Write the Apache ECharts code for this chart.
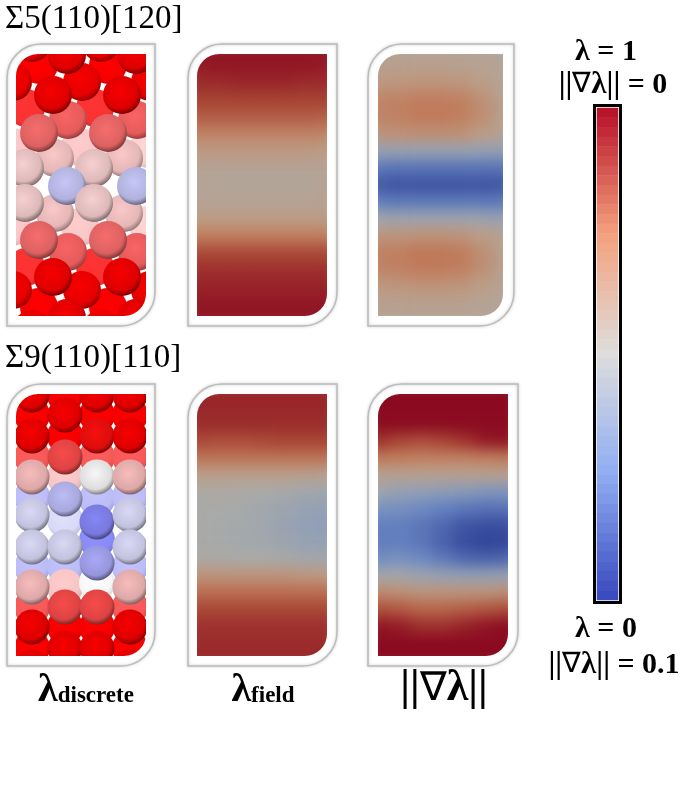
<!DOCTYPE html>
<html>
<head>
<meta charset="utf-8">
<style>
  html, body { margin: 0; padding: 0; background: #fff; }
  #fields, #main { position: absolute; left: 0; top: 0; width: 685px; height: 806px; }
  #fields { filter: blur(7px); }
</style>
<script src="https://cdn.jsdelivr.net/npm/echarts@6/dist/echarts.min.js"></script>
</head>
<body>
<div id="fields"></div>
<div id="main"></div>
<script>
// atoms: [x, y, lambda], x and y along the cell (axis units 0-130 / 0-262)
const sigma5Back = [
  [23,11,1],[92,11,1],[10,54,.9],[79,54,.9],[-4,93,.6],[64,93,.6],[132,95,.58],
  [-4,173,.6],[64,173,.6],[132,171,.58],[10,213,.9],[79,213,.9],[23,253,1],[92,253,1]
];
const sigma5Mid = [
  [16,-11,1],[85,-11,1],[-3,28,1],[66,28,1],[134,28,1],[52,66,.8],[121,66,.8],
  [39,104,.6],[108,104,.6],[39,159,.6],[108,159,.6],[52,198,.8],[121,198,.8],
  [-3,236,1],[66,236,1],[134,236,1],[16,275,1],[85,275,1]
];
const sigma5Front = [
  [51,1,1],[120,1,1],[37,41,1],[106,41,1],[23,79,.78],[92,79,.78],[9,114,.58],[78,114,.58],
  [51,132,.4],[120,132,.4],[9,149,.58],[78,149,.58],[23,186,.78],[92,186,.78],
  [37,223,1],[106,223,1],[51,264,1],[120,264,1]
];
const sigma9Back = [
  [16,21,1],[16,63,.82],[16,103,.38],[16,173,.38],[16,213,.82],[16,254,1],
  [49,1,1],[49,42,1],[49,83,.6],[49,126,.44],[49,173,.38],[49,193,.6],[49,233,1],
  [81,21,1],[81,63,.82],[81,105,.38],[81,146,.28],[81,189,.5],[81,233,1],
  [114,21,1],[114,63,.82],[114,103,.38],[114,173,.38],[114,213,.82],[114,254,1]
];
const sigma9Front = [
  [16,1,1],[16,42,1],[16,83,.62],[16,121,.44],[16,153,.44],[16,193,.62],[16,233,1],[16,273,1],
  [49,21,1],[49,63,.85],[49,105,.38],[49,153,.44],[49,213,.85],[49,254,1],
  [81,1,1],[81,42,.97],[81,83,.5],[81,128,.27],[81,169,.34],[81,213,.85],[81,254,1],
  [114,1,1],[114,42,1],[114,83,.62],[114,121,.44],[114,153,.44],[114,193,.62],[114,233,1],[114,273,1]
];

// fields read row by row, 17 rows by 7 columns, the outer rows run under the frame
const fieldColumns = ['c1','c2','c3','c4','c5','c6','c7'];
const fieldRows = ['r1','r2','r3','r4','r5','r6','r7','r8','r9','r10','r11','r12','r13','r14','r15','r16','r17'];
const sigma5Field = [
  [.98,.98,.98,.98,.98,.98,.98],
  [.96,.97,.97,.97,.97,.97,.96],
  [.93,.93,.94,.94,.94,.93,.93],
  [.88,.88,.88,.88,.88,.88,.88],
  [.82,.82,.82,.82,.82,.82,.81],
  [.72,.72,.72,.72,.72,.72,.71],
  [.64,.64,.64,.64,.64,.64,.63],
  [.58,.58,.58,.58,.58,.58,.58],
  [.57,.56,.56,.56,.56,.56,.57],
  [.58,.58,.58,.58,.58,.58,.59],
  [.63,.63,.63,.63,.63,.63,.63],
  [.74,.74,.74,.74,.74,.74,.73],
  [.86,.86,.86,.86,.86,.86,.86],
  [.92,.92,.92,.92,.92,.92,.92],
  [.95,.95,.95,.95,.95,.95,.95],
  [.97,.97,.97,.97,.97,.97,.97],
  [.98,.98,.98,.98,.98,.98,.98]
];
const sigma5Gradient = [
  [.57,.57,.57,.57,.57,.56,.55],
  [.60,.61,.61,.61,.60,.59,.56],
  [.65,.66,.67,.67,.66,.63,.58],
  [.72,.73,.75,.75,.74,.68,.60],
  [.72,.73,.75,.75,.74,.68,.60],
  [.66,.67,.68,.68,.67,.63,.58],
  [.42,.42,.42,.42,.42,.41,.40],
  [.20,.18,.18,.18,.18,.18,.18],
  [.09,.07,.07,.07,.07,.07,.08],
  [.22,.20,.20,.20,.20,.20,.20],
  [.46,.45,.45,.45,.45,.44,.42],
  [.66,.66,.67,.67,.66,.63,.58],
  [.73,.74,.76,.76,.75,.68,.60],
  [.72,.73,.75,.75,.74,.68,.60],
  [.65,.66,.67,.67,.66,.63,.58],
  [.60,.60,.60,.60,.60,.58,.56],
  [.57,.57,.57,.57,.57,.56,.55]
];
const sigma9Field = [
  [.94,.94,.94,.94,.94,.94,.94],
  [.94,.94,.94,.94,.94,.94,.94],
  [.93,.93,.93,.93,.93,.93,.93],
  [.87,.86,.86,.87,.88,.88,.88],
  [.77,.77,.77,.77,.77,.77,.77],
  [.62,.62,.62,.62,.62,.61,.60],
  [.52,.52,.51,.50,.49,.47,.46],
  [.50,.50,.49,.47,.45,.42,.41],
  [.50,.49,.48,.46,.43,.40,.38],
  [.50,.49,.48,.47,.45,.42,.41],
  [.52,.51,.50,.50,.49,.47,.46],
  [.66,.66,.66,.66,.66,.65,.64],
  [.78,.78,.78,.78,.78,.78,.78],
  [.87,.87,.87,.87,.87,.87,.87],
  [.92,.92,.92,.92,.92,.92,.92],
  [.93,.93,.93,.93,.93,.93,.93],
  [.94,.94,.94,.94,.94,.94,.94]
];
const sigma9Gradient = [
  [1,1,1,1,1,1,1],
  [1,1,1,1,1,1,1],
  [1,1,1,1,1,1,1],
  [.92,.88,.86,.88,.92,.97,.98],
  [.76,.75,.74,.74,.74,.75,.76],
  [.60,.60,.60,.60,.60,.60,.60],
  [.46,.42,.40,.38,.36,.34,.33],
  [.32,.30,.27,.23,.20,.18,.18],
  [.22,.22,.19,.14,.08,.06,.06],
  [.21,.22,.19,.12,.05,.02,.03],
  [.28,.30,.26,.20,.14,.12,.14],
  [.47,.47,.44,.42,.40,.40,.42],
  [.70,.68,.66,.66,.66,.66,.68],
  [.85,.83,.80,.80,.82,.84,.86],
  [.98,.96,.92,.92,.95,.98,1],
  [1,1,1,1,1,1,1],
  [1,1,1,1,1,1,1]
];

// colour bar steps, top to bottom
const barLevels = [
  1,.98,.96,.94,.92,.9,.88,.86,.84,.82,.8,.78,.76,.74,.72,.7,.68,.66,.64,.62,.6,.58,.56,.54,.52,
  .5,.48,.46,.44,.42,.4,.38,.36,.34,.32,.3,.28,.26,.24,.22,.2,.18,.16,.14,.12,.1,.08,.06,.04,.02,0
];
const barColumn = ['lambda'];

const coolWarm = ['#3b4cc0', '#8fadf2', '#dedddc', '#f4a07c', '#b8142a'];
const fieldRamp = ['#2c3e94', '#4a62ac', '#6a88c4', '#8c9cb8', '#a9aaa8', '#bb9e88', '#c07c5c', '#a84634', '#8b0a20'];

const panels = [
  { x: 197, y: 54, w: 130, h: 262, ox: 188, oy: 44, ow: 149, oh: 282, field: sigma5Field },
  { x: 378, y: 54, w: 125, h: 262, ox: 368, oy: 44, ow: 146, oh: 282, field: sigma5Gradient },
  { x: 197, y: 394, w: 130, h: 262, ox: 188, oy: 384, ow: 149, oh: 282, field: sigma9Field },
  { x: 378, y: 394, w: 130, h: 262, ox: 368, oy: 384, ow: 150, oh: 282, field: sigma9Gradient }
];
const atomPanels = [
  { x: 16, y: 54, w: 130, h: 262, ox: 7, oy: 44, ow: 148, oh: 282 },
  { x: 16, y: 394, w: 130, h: 262, ox: 7, oy: 384, ow: 148, oh: 282 }
];

// --- fields, on their own blurred layer
const fieldsChart = echarts.init(document.getElementById('fields'), null, { renderer: 'canvas' });
fieldsChart.setOption({
  animation: false,
  visualMap: { show: false, min: 0, max: 1, calculable: false, inRange: { color: fieldRamp } },
  grid: panels.map(p => ({ left: p.x - 12, top: p.y - 12, width: p.w + 24, height: p.h + 24 })),
  xAxis: panels.map((p, i) => ({ type: 'category', gridIndex: i, data: fieldColumns, show: false })),
  yAxis: panels.map((p, i) => ({ type: 'category', gridIndex: i, data: fieldRows, inverse: true, show: false })),
  series: panels.map((p, i) => ({
    type: 'heatmap',
    xAxisIndex: i,
    yAxisIndex: i,
    data: p.field.flatMap((row, r) => row.map((v, c) => [c, r, v]))
  }))
});

// --- atoms, frames, colour bar and text
function atomRgb(l) {
  if (l >= 0.5) { const g = Math.round(255 * (1 - (l - 0.5) * 2)); return [255, g, g]; }
  const g = Math.round(255 * (1 - (0.5 - l) * 2));
  return [g, g, 255];
}
function shade(rgb, f) {
  return 'rgb(' + rgb.map(c => Math.round(c * f)).join(',') + ')';
}
function atomSeries(list, gridIndex, size, light, rim) {
  return {
    type: 'scatter',
    clip: false,
    xAxisIndex: gridIndex,
    yAxisIndex: gridIndex,
    symbolSize: size,
    data: list.map(a => {
      const rgb = atomRgb(a[2]);
      return {
        value: [a[0], a[1]],
        itemStyle: {
          opacity: 1,
          color: new echarts.graphic.RadialGradient(0.45, 0.4, 0.6, [
            { offset: 0, color: shade(rgb, light) },
            { offset: 0.76, color: shade(rgb, light - (light - rim) * 0.22) },
            { offset: 1, color: shade(rgb, rim) }
          ])
        }
      };
    })
  };
}

// leaf outline: big corners top left and bottom right
function leaf(x, y, w, h, r) {
  return `M${x + r} ${y}L${x + w} ${y}L${x + w} ${y + h - r}A${r} ${r} 0 0 1 ${x + w - r} ${y + h}L${x} ${y + h}L${x} ${y + r}A${r} ${r} 0 0 1 ${x + r} ${y}Z`;
}
function leafHole(x, y, w, h, r) {
  return `M${x + r} ${y}A${r} ${r} 0 0 0 ${x} ${y + r}L${x} ${y + h}L${x + w - r} ${y + h}A${r} ${r} 0 0 0 ${x + w} ${y + h - r}L${x + w} ${y}Z`;
}
const allPanels = atomPanels.concat(panels);
const frameShapes = allPanels.map(p => {
  const mx = p.x - 28, my = p.y - 30, mw = p.w + 56, mh = p.h + 68;
  return {
    type: 'path',
    shape: { pathData: `M${mx} ${my}L${mx + mw} ${my}L${mx + mw} ${my + mh}L${mx} ${my + mh}Z` + leafHole(p.x, p.y, p.w, p.h, 22) },
    style: { fill: '#fff' }
  };
}).concat(allPanels.map(p => ({
  type: 'path',
  shape: { pathData: leaf(p.ox, p.oy, p.ow, p.oh, 34) },
  style: { fill: 'none', stroke: '#bcbcbc', lineWidth: 1.5, shadowBlur: 3, shadowColor: 'rgba(0,0,0,0.25)' }
})));

const serif = '"Liberation Serif", "Times New Roman", serif';
function label(text, x, y, size, weight, align) {
  return {
    type: 'text',
    silent: true,
    z: 100,
    x: x,
    y: y,
    style: { text: text, fill: '#000', font: `${weight} ${size}px ${serif}`, align: align || 'center', verticalAlign: 'middle' }
  };
}
function richLabel(text, x, y, rich) {
  return {
    type: 'text',
    silent: true,
    z: 100,
    x: x,
    y: y,
    style: { text: text, rich: rich, fill: '#000', align: 'center', verticalAlign: 'middle' }
  };
}
function face(size, weight, padTop) {
  return { fontFamily: serif, fontSize: size, fontWeight: weight, fill: '#000', padding: [padTop || 0, 0, 0, 0] };
}
const subRich = { a: face(40, 'bold'), b: face(23, 'bold', 10) };
const normRich = { t: face(44, 'bold'), n: face(40, 'normal'), l: face(44, 'bold') };
const barRich = { t: face(31, 'bold'), n: face(28, 'normal'), l: face(31, 'bold'), v: face(30, 'bold') };
const texts = [
  label('Σ5(110)[120]', 5, 19, 33, 'normal', 'left'),
  label('Σ9(110)[110]', 5, 358, 33, 'normal', 'left'),
  richLabel('{a|λ}{b|discrete}', 86, 691, subRich),
  richLabel('{a|λ}{b|field}', 263, 691, subRich),
  richLabel('{t|||}{n|∇}{l|λ}{t|||}', 444, 689, normRich),
  label('λ = 1', 606, 52, 30, 'bold'),
  richLabel('{t|||}{n|∇}{l|λ}{t|||}{v| = 0}', 613, 85, barRich),
  label('λ = 0', 606, 629, 30, 'bold'),
  richLabel('{t|||}{n|∇}{l|λ}{t|||}{v| = 0.1}', 614, 665, barRich),
  {
    type: 'rect',
    silent: true,
    z: 100,
    shape: { x: 594.5, y: 105.5, width: 26, height: 497 },
    style: { fill: 'none', stroke: '#000', lineWidth: 3 }
  }
];

const mainChart = echarts.init(document.getElementById('main'), null, { renderer: 'canvas' });
mainChart.setOption({
  animation: false,
  backgroundColor: 'transparent',
  visualMap: { show: false, seriesIndex: 5, min: 0, max: 1, inRange: { color: coolWarm } },
  grid: [
    { left: 16, top: 54, width: 130, height: 262 },
    { left: 16, top: 394, width: 130, height: 262 },
    { left: 597, top: 108, width: 21, height: 492 }
  ],
  xAxis: [
    { type: 'value', gridIndex: 0, min: 0, max: 130, show: false },
    { type: 'value', gridIndex: 1, min: 0, max: 130, show: false },
    { type: 'category', gridIndex: 2, data: barColumn, show: false }
  ],
  yAxis: [
    { type: 'value', gridIndex: 0, min: 0, max: 262, inverse: true, show: false },
    { type: 'value', gridIndex: 1, min: 0, max: 262, inverse: true, show: false },
    { type: 'category', gridIndex: 2, data: barLevels.map(String), inverse: true, show: false }
  ],
  graphic: { z: 100, elements: texts },
  series: [
    atomSeries(sigma5Back, 0, 38, 1, 0.88),
    atomSeries(sigma5Mid, 0, 38, 0.98, 0.6),
    atomSeries(sigma5Front, 0, 38, 0.97, 0.5),
    atomSeries(sigma9Back, 1, 36, 1, 0.85),
    atomSeries(sigma9Front, 1, 35, 0.97, 0.5),
    {
      type: 'heatmap',
      xAxisIndex: 2,
      yAxisIndex: 2,
      data: barLevels.map((v, i) => [0, i, v])
    },
    {
      // white frames and outlines over the atoms and fields
      type: 'custom',
      coordinateSystem: 'none',
      silent: true,
      z: 20,
      data: [[0]],
      renderItem: () => ({ type: 'group', children: frameShapes })
    }
  ]
});

window.addEventListener('resize', () => {
  fieldsChart.resize();
  mainChart.resize();
});
</script>
</body>
</html>
